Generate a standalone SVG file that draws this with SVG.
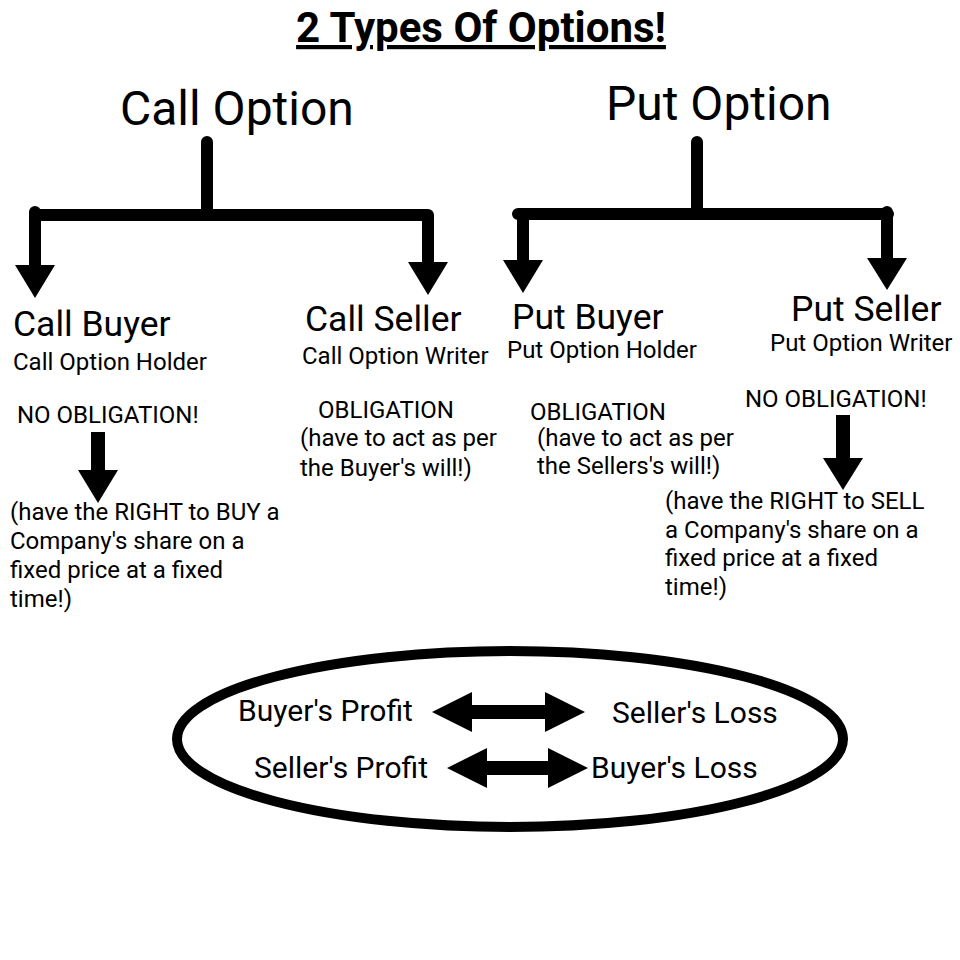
<svg xmlns="http://www.w3.org/2000/svg" width="960" height="960" viewBox="0 0 960 960">
<style>
text{font-family:Roboto,"Liberation Sans",sans-serif;fill:#000}
.h{font-size:48px}.n{font-size:35.5px}.s{font-size:24px}.e{font-size:30px}
.l{stroke:#000;stroke-width:12;fill:none;stroke-linecap:round}
</style>
<rect width="960" height="960" fill="#fff"/>
<g id="title"><text x="481" y="42" text-anchor="middle" font-size="42" font-weight="bold" text-decoration="underline">2 Types Of Options!</text></g>
<g id="call-option"><text class="h" x="120" y="125">Call Option</text></g>
<g id="put-option"><text class="h" x="606" y="120">Put Option</text></g>
<g id="connectors">
<path class="l" d="M207 142V213M35 215H428M35 212V266M428 215V264"/>
<polygon points="15,265 55,265 35,298"/><polygon points="408,262 448,262 428,295"/>
<path class="l" d="M697 142V210M518 214H888M523 214V262M887 212V260"/>
<polygon points="503,260 543,260 523,293"/><polygon points="867,258 907,258 887,290"/>
<rect x="91" y="432" width="14" height="40"/><polygon points="78,470 118,470 98,503"/>
<rect x="836" y="415" width="14" height="45"/><polygon points="823,458 863,458 843,490"/>
<polygon points="432,712 472,692 472,705 545,705 545,692 585,712 545,732 545,719 472,719 472,732"/>
<polygon points="447,768 487,748 487,761 548,761 548,748 588,768 548,788 548,775 487,775 487,788"/>
</g>
<g id="call-buyer"><text class="n" x="13" y="336">Call Buyer</text><text class="s" x="13" y="370">Call Option Holder</text><text class="s" x="17" y="423">NO OBLIGATION!</text>
<text class="s" x="10" y="520">(have the RIGHT to BUY a</text><text class="s" x="10" y="549">Company's share on a</text><text class="s" x="10" y="578">fixed price at a fixed</text><text class="s" x="10" y="607">time!)</text></g>
<g id="call-seller"><text class="n" x="305" y="331">Call Seller</text><text class="s" x="302" y="364">Call Option Writer</text><text class="s" x="318" y="418">OBLIGATION</text><text class="s" x="300" y="446">(have to act as per</text><text class="s" x="300" y="476">the Buyer's will!)</text></g>
<g id="put-buyer"><text class="n" x="512" y="329">Put Buyer</text><text class="s" x="507" y="358">Put Option Holder</text><text class="s" x="530" y="420">OBLIGATION</text><text class="s" x="537" y="446">(have to act as per</text><text class="s" x="537" y="474">the Sellers's will!)</text></g>
<g id="put-seller"><text class="n" x="791" y="321">Put Seller</text><text class="s" x="770" y="351">Put Option Writer</text><text class="s" x="745" y="407" font-size="25">NO OBLIGATION!</text>
<text class="s" x="665" y="509">(have the RIGHT to SELL</text><text class="s" x="665" y="538">a Company's share on a</text><text class="s" x="665" y="566">fixed price at a fixed</text><text class="s" x="665" y="595">time!)</text></g>
<g id="summary"><ellipse cx="510" cy="739" rx="333" ry="88" fill="none" stroke="#000" stroke-width="10"/>
<text class="e" x="238" y="721">Buyer's Profit</text><text class="e" x="612" y="723">Seller's Loss</text><text class="e" x="254" y="778">Seller's Profit</text><text class="e" x="591" y="778">Buyer's Loss</text></g>
</svg>
